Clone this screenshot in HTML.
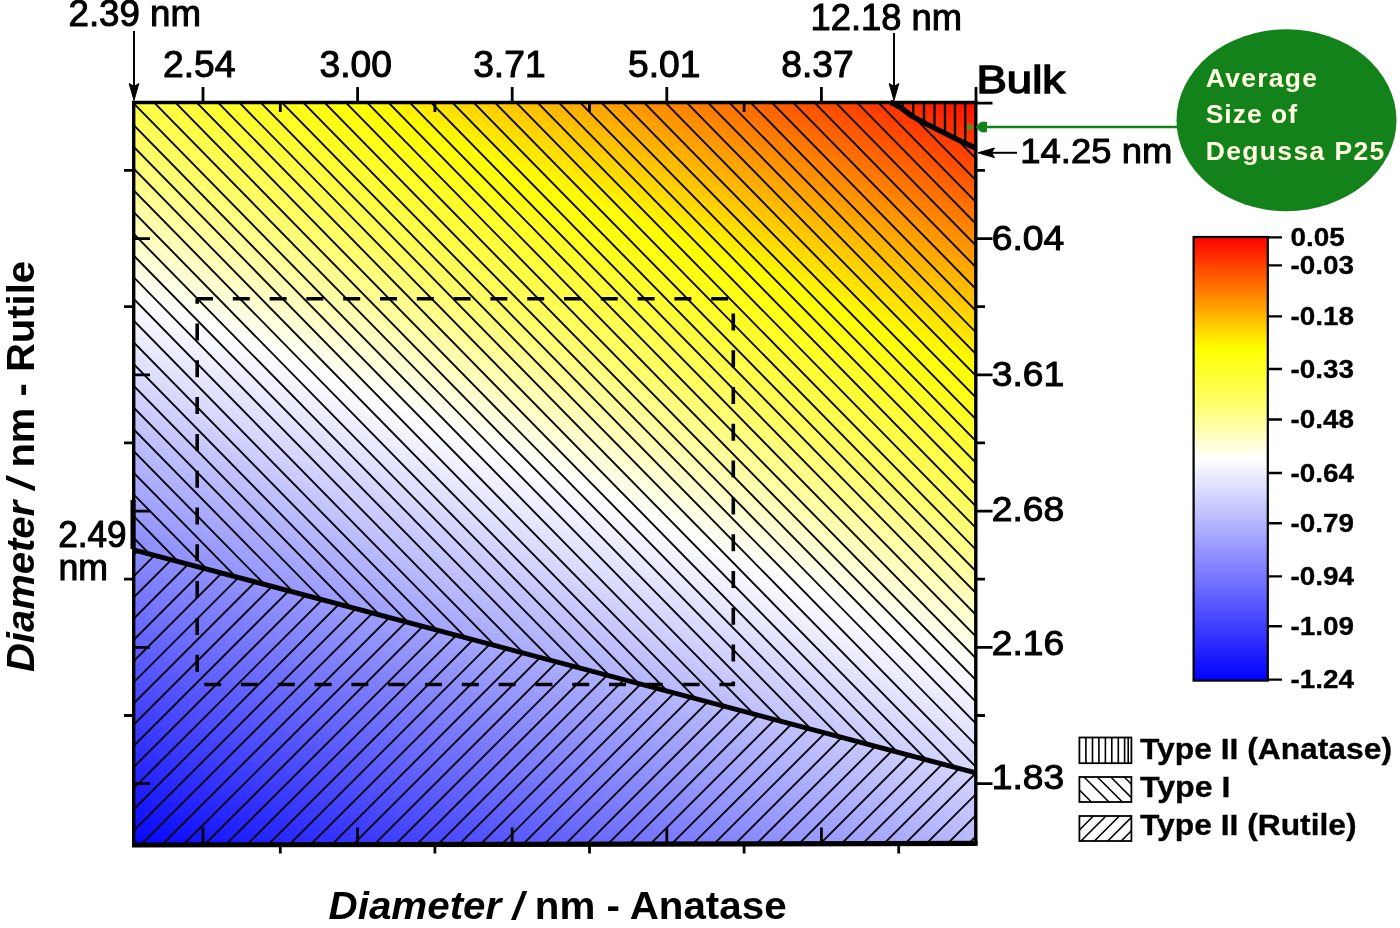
<!DOCTYPE html>
<html lang="en">
<head>
<meta charset="utf-8">
<title>Diameter phase map - Anatase / Rutile</title>
<style>
html,body{margin:0;padding:0;background:#fff;}
body{width:1400px;height:928px;overflow:hidden;font-family:"Liberation Sans",sans-serif;}
svg{display:block;}
text{font-family:"Liberation Sans",sans-serif;}
</style>
</head>
<body>
<svg width="1400" height="928" viewBox="0 0 1400 928">
<defs>
<linearGradient id="cg" x1="0" y1="0" x2="0" y2="1">
<stop offset="0" stop-color="#ff0000"/>
<stop offset="0.25" stop-color="#ffff00"/>
<stop offset="0.375" stop-color="#ffff68"/>
<stop offset="0.5" stop-color="#ffffff"/>
<stop offset="1" stop-color="#0000ff"/>
</linearGradient>
<linearGradient id="sb" gradientUnits="userSpaceOnUse" x1="133.7" y1="0" x2="975.8" y2="0"/>
<linearGradient id="s0" href="#sb"><stop offset="0.0000" stop-color="#ffff48"/><stop offset="0.2711" stop-color="#ffff00"/><stop offset="1.0000" stop-color="#ff1100"/></linearGradient>
<linearGradient id="s1" href="#sb"><stop offset="0.0000" stop-color="#ffff4c"/><stop offset="0.2847" stop-color="#ffff00"/><stop offset="1.0000" stop-color="#ff1600"/></linearGradient>
<linearGradient id="s2" href="#sb"><stop offset="0.0000" stop-color="#ffff4f"/><stop offset="0.2983" stop-color="#ffff00"/><stop offset="1.0000" stop-color="#ff1a00"/></linearGradient>
<linearGradient id="s3" href="#sb"><stop offset="0.0000" stop-color="#ffff53"/><stop offset="0.3120" stop-color="#ffff00"/><stop offset="1.0000" stop-color="#ff1f00"/></linearGradient>
<linearGradient id="s4" href="#sb"><stop offset="0.0000" stop-color="#ffff57"/><stop offset="0.3256" stop-color="#ffff00"/><stop offset="1.0000" stop-color="#ff2300"/></linearGradient>
<linearGradient id="s5" href="#sb"><stop offset="0.0000" stop-color="#ffff5a"/><stop offset="0.3393" stop-color="#ffff00"/><stop offset="1.0000" stop-color="#ff2800"/></linearGradient>
<linearGradient id="s6" href="#sb"><stop offset="0.0000" stop-color="#ffff5e"/><stop offset="0.3529" stop-color="#ffff00"/><stop offset="1.0000" stop-color="#ff2c00"/></linearGradient>
<linearGradient id="s7" href="#sb"><stop offset="0.0000" stop-color="#ffff61"/><stop offset="0.3666" stop-color="#ffff00"/><stop offset="1.0000" stop-color="#ff3100"/></linearGradient>
<linearGradient id="s8" href="#sb"><stop offset="0.0000" stop-color="#ffff65"/><stop offset="0.3803" stop-color="#ffff00"/><stop offset="1.0000" stop-color="#ff3500"/></linearGradient>
<linearGradient id="s9" href="#sb"><stop offset="0.0000" stop-color="#ffff69"/><stop offset="0.0019" stop-color="#ffff68"/><stop offset="0.3940" stop-color="#ffff00"/><stop offset="1.0000" stop-color="#ff3a00"/></linearGradient>
<linearGradient id="s10" href="#sb"><stop offset="0.0000" stop-color="#ffff6e"/><stop offset="0.0154" stop-color="#ffff68"/><stop offset="0.4077" stop-color="#ffff00"/><stop offset="1.0000" stop-color="#ff3f00"/></linearGradient>
<linearGradient id="s11" href="#sb"><stop offset="0.0000" stop-color="#ffff73"/><stop offset="0.0290" stop-color="#ffff68"/><stop offset="0.4215" stop-color="#ffff00"/><stop offset="1.0000" stop-color="#ff4300"/></linearGradient>
<linearGradient id="s12" href="#sb"><stop offset="0.0000" stop-color="#ffff78"/><stop offset="0.0426" stop-color="#ffff68"/><stop offset="0.4352" stop-color="#ffff00"/><stop offset="1.0000" stop-color="#ff4800"/></linearGradient>
<linearGradient id="s13" href="#sb"><stop offset="0.0000" stop-color="#ffff7e"/><stop offset="0.0562" stop-color="#ffff68"/><stop offset="0.4490" stop-color="#ffff00"/><stop offset="1.0000" stop-color="#ff4c00"/></linearGradient>
<linearGradient id="s14" href="#sb"><stop offset="0.0000" stop-color="#ffff83"/><stop offset="0.0698" stop-color="#ffff68"/><stop offset="0.4627" stop-color="#ffff00"/><stop offset="1.0000" stop-color="#ff5100"/></linearGradient>
<linearGradient id="s15" href="#sb"><stop offset="0.0000" stop-color="#ffff88"/><stop offset="0.0834" stop-color="#ffff68"/><stop offset="0.4765" stop-color="#ffff00"/><stop offset="1.0000" stop-color="#ff5500"/></linearGradient>
<linearGradient id="s16" href="#sb"><stop offset="0.0000" stop-color="#ffff8d"/><stop offset="0.0970" stop-color="#ffff68"/><stop offset="0.4903" stop-color="#ffff00"/><stop offset="1.0000" stop-color="#ff5a00"/></linearGradient>
<linearGradient id="s17" href="#sb"><stop offset="0.0000" stop-color="#ffff92"/><stop offset="0.1107" stop-color="#ffff68"/><stop offset="0.5041" stop-color="#ffff00"/><stop offset="1.0000" stop-color="#ff5e00"/></linearGradient>
<linearGradient id="s18" href="#sb"><stop offset="0.0000" stop-color="#ffff98"/><stop offset="0.1243" stop-color="#ffff68"/><stop offset="0.5179" stop-color="#ffff00"/><stop offset="1.0000" stop-color="#ff6300"/></linearGradient>
<linearGradient id="s19" href="#sb"><stop offset="0.0000" stop-color="#ffff9d"/><stop offset="0.1380" stop-color="#ffff68"/><stop offset="0.5317" stop-color="#ffff00"/><stop offset="1.0000" stop-color="#ff6700"/></linearGradient>
<linearGradient id="s20" href="#sb"><stop offset="0.0000" stop-color="#ffffa2"/><stop offset="0.1516" stop-color="#ffff68"/><stop offset="0.5456" stop-color="#ffff00"/><stop offset="1.0000" stop-color="#ff6c00"/></linearGradient>
<linearGradient id="s21" href="#sb"><stop offset="0.0000" stop-color="#ffffa7"/><stop offset="0.1653" stop-color="#ffff68"/><stop offset="0.5594" stop-color="#ffff00"/><stop offset="1.0000" stop-color="#ff7000"/></linearGradient>
<linearGradient id="s22" href="#sb"><stop offset="0.0000" stop-color="#ffffad"/><stop offset="0.1790" stop-color="#ffff68"/><stop offset="0.5733" stop-color="#ffff00"/><stop offset="1.0000" stop-color="#ff7500"/></linearGradient>
<linearGradient id="s23" href="#sb"><stop offset="0.0000" stop-color="#ffffb2"/><stop offset="0.1927" stop-color="#ffff68"/><stop offset="0.5871" stop-color="#ffff00"/><stop offset="1.0000" stop-color="#ff7a00"/></linearGradient>
<linearGradient id="s24" href="#sb"><stop offset="0.0000" stop-color="#ffffb7"/><stop offset="0.2064" stop-color="#ffff68"/><stop offset="0.6010" stop-color="#ffff00"/><stop offset="1.0000" stop-color="#ff7e00"/></linearGradient>
<linearGradient id="s25" href="#sb"><stop offset="0.0000" stop-color="#ffffbc"/><stop offset="0.2201" stop-color="#ffff68"/><stop offset="0.6149" stop-color="#ffff00"/><stop offset="1.0000" stop-color="#ff8300"/></linearGradient>
<linearGradient id="s26" href="#sb"><stop offset="0.0000" stop-color="#ffffc1"/><stop offset="0.2339" stop-color="#ffff68"/><stop offset="0.6288" stop-color="#ffff00"/><stop offset="1.0000" stop-color="#ff8700"/></linearGradient>
<linearGradient id="s27" href="#sb"><stop offset="0.0000" stop-color="#ffffc7"/><stop offset="0.2476" stop-color="#ffff68"/><stop offset="0.6427" stop-color="#ffff00"/><stop offset="1.0000" stop-color="#ff8c00"/></linearGradient>
<linearGradient id="s28" href="#sb"><stop offset="0.0000" stop-color="#ffffcc"/><stop offset="0.2614" stop-color="#ffff68"/><stop offset="0.6566" stop-color="#ffff00"/><stop offset="1.0000" stop-color="#ff9000"/></linearGradient>
<linearGradient id="s29" href="#sb"><stop offset="0.0000" stop-color="#ffffd1"/><stop offset="0.2752" stop-color="#ffff68"/><stop offset="0.6706" stop-color="#ffff00"/><stop offset="1.0000" stop-color="#ff9500"/></linearGradient>
<linearGradient id="s30" href="#sb"><stop offset="0.0000" stop-color="#ffffd6"/><stop offset="0.2889" stop-color="#ffff68"/><stop offset="0.6845" stop-color="#ffff00"/><stop offset="1.0000" stop-color="#ff9900"/></linearGradient>
<linearGradient id="s31" href="#sb"><stop offset="0.0000" stop-color="#ffffdc"/><stop offset="0.3027" stop-color="#ffff68"/><stop offset="0.6985" stop-color="#ffff00"/><stop offset="1.0000" stop-color="#ff9e00"/></linearGradient>
<linearGradient id="s32" href="#sb"><stop offset="0.0000" stop-color="#ffffe1"/><stop offset="0.3165" stop-color="#ffff68"/><stop offset="0.7124" stop-color="#ffff00"/><stop offset="1.0000" stop-color="#ffa200"/></linearGradient>
<linearGradient id="s33" href="#sb"><stop offset="0.0000" stop-color="#ffffe6"/><stop offset="0.3304" stop-color="#ffff68"/><stop offset="0.7264" stop-color="#ffff00"/><stop offset="1.0000" stop-color="#ffa700"/></linearGradient>
<linearGradient id="s34" href="#sb"><stop offset="0.0000" stop-color="#ffffeb"/><stop offset="0.3442" stop-color="#ffff68"/><stop offset="0.7404" stop-color="#ffff00"/><stop offset="1.0000" stop-color="#ffab00"/></linearGradient>
<linearGradient id="s35" href="#sb"><stop offset="0.0000" stop-color="#fffff0"/><stop offset="0.3580" stop-color="#ffff68"/><stop offset="0.7544" stop-color="#ffff00"/><stop offset="1.0000" stop-color="#ffb000"/></linearGradient>
<linearGradient id="s36" href="#sb"><stop offset="0.0000" stop-color="#fffff6"/><stop offset="0.3719" stop-color="#ffff68"/><stop offset="0.7684" stop-color="#ffff00"/><stop offset="1.0000" stop-color="#ffb500"/></linearGradient>
<linearGradient id="s37" href="#sb"><stop offset="0.0000" stop-color="#fffffb"/><stop offset="0.3858" stop-color="#ffff68"/><stop offset="0.7825" stop-color="#ffff00"/><stop offset="1.0000" stop-color="#ffb900"/></linearGradient>
<linearGradient id="s38" href="#sb"><stop offset="0.0000" stop-color="#ffffff"/><stop offset="0.0028" stop-color="#ffffff"/><stop offset="0.3997" stop-color="#ffff68"/><stop offset="0.7965" stop-color="#ffff00"/><stop offset="1.0000" stop-color="#ffbe00"/></linearGradient>
<linearGradient id="s39" href="#sb"><stop offset="0.0000" stop-color="#fcfcff"/><stop offset="0.0169" stop-color="#ffffff"/><stop offset="0.4138" stop-color="#ffff68"/><stop offset="0.8107" stop-color="#ffff00"/><stop offset="1.0000" stop-color="#ffc200"/></linearGradient>
<linearGradient id="s40" href="#sb"><stop offset="0.0000" stop-color="#fafaff"/><stop offset="0.0311" stop-color="#ffffff"/><stop offset="0.4279" stop-color="#ffff68"/><stop offset="0.8248" stop-color="#ffff00"/><stop offset="1.0000" stop-color="#ffc700"/></linearGradient>
<linearGradient id="s41" href="#sb"><stop offset="0.0000" stop-color="#f8f8ff"/><stop offset="0.0452" stop-color="#ffffff"/><stop offset="0.4420" stop-color="#ffff68"/><stop offset="0.8389" stop-color="#ffff00"/><stop offset="1.0000" stop-color="#ffcb00"/></linearGradient>
<linearGradient id="s42" href="#sb"><stop offset="0.0000" stop-color="#f5f5ff"/><stop offset="0.0593" stop-color="#ffffff"/><stop offset="0.4562" stop-color="#ffff68"/><stop offset="0.8530" stop-color="#ffff00"/><stop offset="1.0000" stop-color="#ffd000"/></linearGradient>
<linearGradient id="s43" href="#sb"><stop offset="0.0000" stop-color="#f3f3ff"/><stop offset="0.0734" stop-color="#ffffff"/><stop offset="0.4703" stop-color="#ffff68"/><stop offset="0.8672" stop-color="#ffff00"/><stop offset="1.0000" stop-color="#ffd400"/></linearGradient>
<linearGradient id="s44" href="#sb"><stop offset="0.0000" stop-color="#f1f1ff"/><stop offset="0.0875" stop-color="#ffffff"/><stop offset="0.4844" stop-color="#ffff68"/><stop offset="0.8813" stop-color="#ffff00"/><stop offset="1.0000" stop-color="#ffd900"/></linearGradient>
<linearGradient id="s45" href="#sb"><stop offset="0.0000" stop-color="#efefff"/><stop offset="0.1016" stop-color="#ffffff"/><stop offset="0.4985" stop-color="#ffff68"/><stop offset="0.8954" stop-color="#ffff00"/><stop offset="1.0000" stop-color="#ffdd00"/></linearGradient>
<linearGradient id="s46" href="#sb"><stop offset="0.0000" stop-color="#ececff"/><stop offset="0.1158" stop-color="#ffffff"/><stop offset="0.5127" stop-color="#ffff68"/><stop offset="0.9096" stop-color="#ffff00"/><stop offset="1.0000" stop-color="#ffe200"/></linearGradient>
<linearGradient id="s47" href="#sb"><stop offset="0.0000" stop-color="#eaeaff"/><stop offset="0.1299" stop-color="#ffffff"/><stop offset="0.5268" stop-color="#ffff68"/><stop offset="0.9237" stop-color="#ffff00"/><stop offset="1.0000" stop-color="#ffe600"/></linearGradient>
<linearGradient id="s48" href="#sb"><stop offset="0.0000" stop-color="#e8e8ff"/><stop offset="0.1440" stop-color="#ffffff"/><stop offset="0.5409" stop-color="#ffff68"/><stop offset="0.9378" stop-color="#ffff00"/><stop offset="1.0000" stop-color="#ffeb00"/></linearGradient>
<linearGradient id="s49" href="#sb"><stop offset="0.0000" stop-color="#e6e6ff"/><stop offset="0.1581" stop-color="#ffffff"/><stop offset="0.5550" stop-color="#ffff68"/><stop offset="0.9519" stop-color="#ffff00"/><stop offset="1.0000" stop-color="#fff000"/></linearGradient>
<linearGradient id="s50" href="#sb"><stop offset="0.0000" stop-color="#e3e3ff"/><stop offset="0.1723" stop-color="#ffffff"/><stop offset="0.5692" stop-color="#ffff68"/><stop offset="0.9661" stop-color="#ffff00"/><stop offset="1.0000" stop-color="#fff400"/></linearGradient>
<linearGradient id="s51" href="#sb"><stop offset="0.0000" stop-color="#e1e1ff"/><stop offset="0.1864" stop-color="#ffffff"/><stop offset="0.5833" stop-color="#ffff68"/><stop offset="0.9802" stop-color="#ffff00"/><stop offset="1.0000" stop-color="#fff900"/></linearGradient>
<linearGradient id="s52" href="#sb"><stop offset="0.0000" stop-color="#dfdfff"/><stop offset="0.2005" stop-color="#ffffff"/><stop offset="0.5974" stop-color="#ffff68"/><stop offset="0.9943" stop-color="#ffff00"/><stop offset="1.0000" stop-color="#fffd00"/></linearGradient>
<linearGradient id="s53" href="#sb"><stop offset="0.0000" stop-color="#ddddff"/><stop offset="0.2145" stop-color="#ffffff"/><stop offset="0.6112" stop-color="#ffff68"/><stop offset="1.0000" stop-color="#ffff02"/></linearGradient>
<linearGradient id="s54" href="#sb"><stop offset="0.0000" stop-color="#dadaff"/><stop offset="0.2284" stop-color="#ffffff"/><stop offset="0.6248" stop-color="#ffff68"/><stop offset="1.0000" stop-color="#ffff06"/></linearGradient>
<linearGradient id="s55" href="#sb"><stop offset="0.0000" stop-color="#d8d8ff"/><stop offset="0.2423" stop-color="#ffffff"/><stop offset="0.6384" stop-color="#ffff68"/><stop offset="1.0000" stop-color="#ffff09"/></linearGradient>
<linearGradient id="s56" href="#sb"><stop offset="0.0000" stop-color="#d6d6ff"/><stop offset="0.2562" stop-color="#ffffff"/><stop offset="0.6519" stop-color="#ffff68"/><stop offset="1.0000" stop-color="#ffff0d"/></linearGradient>
<linearGradient id="s57" href="#sb"><stop offset="0.0000" stop-color="#d3d3ff"/><stop offset="0.2700" stop-color="#ffffff"/><stop offset="0.6654" stop-color="#ffff68"/><stop offset="1.0000" stop-color="#ffff10"/></linearGradient>
<linearGradient id="s58" href="#sb"><stop offset="0.0000" stop-color="#d1d1ff"/><stop offset="0.2839" stop-color="#ffffff"/><stop offset="0.6789" stop-color="#ffff68"/><stop offset="1.0000" stop-color="#ffff13"/></linearGradient>
<linearGradient id="s59" href="#sb"><stop offset="0.0000" stop-color="#cfcfff"/><stop offset="0.2977" stop-color="#ffffff"/><stop offset="0.6924" stop-color="#ffff68"/><stop offset="1.0000" stop-color="#ffff17"/></linearGradient>
<linearGradient id="s60" href="#sb"><stop offset="0.0000" stop-color="#cdcdff"/><stop offset="0.3115" stop-color="#ffffff"/><stop offset="0.7059" stop-color="#ffff68"/><stop offset="1.0000" stop-color="#ffff1a"/></linearGradient>
<linearGradient id="s61" href="#sb"><stop offset="0.0000" stop-color="#cacaff"/><stop offset="0.3252" stop-color="#ffffff"/><stop offset="0.7193" stop-color="#ffff68"/><stop offset="1.0000" stop-color="#ffff1e"/></linearGradient>
<linearGradient id="s62" href="#sb"><stop offset="0.0000" stop-color="#c8c8ff"/><stop offset="0.3389" stop-color="#ffffff"/><stop offset="0.7327" stop-color="#ffff68"/><stop offset="1.0000" stop-color="#ffff21"/></linearGradient>
<linearGradient id="s63" href="#sb"><stop offset="0.0000" stop-color="#c6c6ff"/><stop offset="0.3527" stop-color="#ffffff"/><stop offset="0.7461" stop-color="#ffff68"/><stop offset="1.0000" stop-color="#ffff25"/></linearGradient>
<linearGradient id="s64" href="#sb"><stop offset="0.0000" stop-color="#c4c4ff"/><stop offset="0.3663" stop-color="#ffffff"/><stop offset="0.7594" stop-color="#ffff68"/><stop offset="1.0000" stop-color="#ffff28"/></linearGradient>
<linearGradient id="s65" href="#sb"><stop offset="0.0000" stop-color="#c1c1ff"/><stop offset="0.3800" stop-color="#ffffff"/><stop offset="0.7728" stop-color="#ffff68"/><stop offset="1.0000" stop-color="#ffff2c"/></linearGradient>
<linearGradient id="s66" href="#sb"><stop offset="0.0000" stop-color="#bfbfff"/><stop offset="0.3936" stop-color="#ffffff"/><stop offset="0.7861" stop-color="#ffff68"/><stop offset="1.0000" stop-color="#ffff2f"/></linearGradient>
<linearGradient id="s67" href="#sb"><stop offset="0.0000" stop-color="#bdbdff"/><stop offset="0.4073" stop-color="#ffffff"/><stop offset="0.7994" stop-color="#ffff68"/><stop offset="1.0000" stop-color="#ffff33"/></linearGradient>
<linearGradient id="s68" href="#sb"><stop offset="0.0000" stop-color="#bbbbff"/><stop offset="0.4209" stop-color="#ffffff"/><stop offset="0.8126" stop-color="#ffff68"/><stop offset="1.0000" stop-color="#ffff36"/></linearGradient>
<linearGradient id="s69" href="#sb"><stop offset="0.0000" stop-color="#b8b8ff"/><stop offset="0.4344" stop-color="#ffffff"/><stop offset="0.8259" stop-color="#ffff68"/><stop offset="1.0000" stop-color="#ffff3a"/></linearGradient>
<linearGradient id="s70" href="#sb"><stop offset="0.0000" stop-color="#b6b6ff"/><stop offset="0.4480" stop-color="#ffffff"/><stop offset="0.8391" stop-color="#ffff68"/><stop offset="1.0000" stop-color="#ffff3d"/></linearGradient>
<linearGradient id="s71" href="#sb"><stop offset="0.0000" stop-color="#b4b4ff"/><stop offset="0.4615" stop-color="#ffffff"/><stop offset="0.8523" stop-color="#ffff68"/><stop offset="1.0000" stop-color="#ffff41"/></linearGradient>
<linearGradient id="s72" href="#sb"><stop offset="0.0000" stop-color="#b1b1ff"/><stop offset="0.4750" stop-color="#ffffff"/><stop offset="0.8655" stop-color="#ffff68"/><stop offset="1.0000" stop-color="#ffff44"/></linearGradient>
<linearGradient id="s73" href="#sb"><stop offset="0.0000" stop-color="#afafff"/><stop offset="0.4885" stop-color="#ffffff"/><stop offset="0.8787" stop-color="#ffff68"/><stop offset="1.0000" stop-color="#ffff48"/></linearGradient>
<linearGradient id="s74" href="#sb"><stop offset="0.0000" stop-color="#adadff"/><stop offset="0.5020" stop-color="#ffffff"/><stop offset="0.8918" stop-color="#ffff68"/><stop offset="1.0000" stop-color="#ffff4b"/></linearGradient>
<linearGradient id="s75" href="#sb"><stop offset="0.0000" stop-color="#ababff"/><stop offset="0.5154" stop-color="#ffffff"/><stop offset="0.9049" stop-color="#ffff68"/><stop offset="1.0000" stop-color="#ffff4f"/></linearGradient>
<linearGradient id="s76" href="#sb"><stop offset="0.0000" stop-color="#a8a8ff"/><stop offset="0.5288" stop-color="#ffffff"/><stop offset="0.9180" stop-color="#ffff68"/><stop offset="1.0000" stop-color="#ffff52"/></linearGradient>
<linearGradient id="s77" href="#sb"><stop offset="0.0000" stop-color="#a6a6ff"/><stop offset="0.5422" stop-color="#ffffff"/><stop offset="0.9311" stop-color="#ffff68"/><stop offset="1.0000" stop-color="#ffff56"/></linearGradient>
<linearGradient id="s78" href="#sb"><stop offset="0.0000" stop-color="#a4a4ff"/><stop offset="0.5556" stop-color="#ffffff"/><stop offset="0.9441" stop-color="#ffff68"/><stop offset="1.0000" stop-color="#ffff59"/></linearGradient>
<linearGradient id="s79" href="#sb"><stop offset="0.0000" stop-color="#a2a2ff"/><stop offset="0.5689" stop-color="#ffffff"/><stop offset="0.9572" stop-color="#ffff68"/><stop offset="1.0000" stop-color="#ffff5d"/></linearGradient>
<linearGradient id="s80" href="#sb"><stop offset="0.0000" stop-color="#9f9fff"/><stop offset="0.5823" stop-color="#ffffff"/><stop offset="0.9702" stop-color="#ffff68"/><stop offset="1.0000" stop-color="#ffff60"/></linearGradient>
<linearGradient id="s81" href="#sb"><stop offset="0.0000" stop-color="#9d9dff"/><stop offset="0.5956" stop-color="#ffffff"/><stop offset="0.9831" stop-color="#ffff68"/><stop offset="1.0000" stop-color="#ffff63"/></linearGradient>
<linearGradient id="s82" href="#sb"><stop offset="0.0000" stop-color="#9b9bff"/><stop offset="0.6089" stop-color="#ffffff"/><stop offset="0.9961" stop-color="#ffff68"/><stop offset="1.0000" stop-color="#ffff67"/></linearGradient>
<linearGradient id="s83" href="#sb"><stop offset="0.0000" stop-color="#9999ff"/><stop offset="0.6221" stop-color="#ffffff"/><stop offset="1.0000" stop-color="#ffff6c"/></linearGradient>
<linearGradient id="s84" href="#sb"><stop offset="0.0000" stop-color="#9696ff"/><stop offset="0.6354" stop-color="#ffffff"/><stop offset="1.0000" stop-color="#ffff71"/></linearGradient>
<linearGradient id="s85" href="#sb"><stop offset="0.0000" stop-color="#9494ff"/><stop offset="0.6486" stop-color="#ffffff"/><stop offset="1.0000" stop-color="#ffff76"/></linearGradient>
<linearGradient id="s86" href="#sb"><stop offset="0.0000" stop-color="#9292ff"/><stop offset="0.6618" stop-color="#ffffff"/><stop offset="1.0000" stop-color="#ffff7b"/></linearGradient>
<linearGradient id="s87" href="#sb"><stop offset="0.0000" stop-color="#8f8fff"/><stop offset="0.6750" stop-color="#ffffff"/><stop offset="1.0000" stop-color="#ffff80"/></linearGradient>
<linearGradient id="s88" href="#sb"><stop offset="0.0000" stop-color="#8d8dff"/><stop offset="0.6881" stop-color="#ffffff"/><stop offset="1.0000" stop-color="#ffff85"/></linearGradient>
<linearGradient id="s89" href="#sb"><stop offset="0.0000" stop-color="#8b8bff"/><stop offset="0.7012" stop-color="#ffffff"/><stop offset="1.0000" stop-color="#ffff8a"/></linearGradient>
<linearGradient id="s90" href="#sb"><stop offset="0.0000" stop-color="#8989ff"/><stop offset="0.7144" stop-color="#ffffff"/><stop offset="1.0000" stop-color="#ffff8f"/></linearGradient>
<linearGradient id="s91" href="#sb"><stop offset="0.0000" stop-color="#8686ff"/><stop offset="0.7274" stop-color="#ffffff"/><stop offset="1.0000" stop-color="#ffff94"/></linearGradient>
<linearGradient id="s92" href="#sb"><stop offset="0.0000" stop-color="#8484ff"/><stop offset="0.7405" stop-color="#ffffff"/><stop offset="1.0000" stop-color="#ffff99"/></linearGradient>
<linearGradient id="s93" href="#sb"><stop offset="0.0000" stop-color="#8282ff"/><stop offset="0.7536" stop-color="#ffffff"/><stop offset="1.0000" stop-color="#ffff9e"/></linearGradient>
<linearGradient id="s94" href="#sb"><stop offset="0.0000" stop-color="#8080ff"/><stop offset="0.7666" stop-color="#ffffff"/><stop offset="1.0000" stop-color="#ffffa3"/></linearGradient>
<linearGradient id="s95" href="#sb"><stop offset="0.0000" stop-color="#7d7dff"/><stop offset="0.7796" stop-color="#ffffff"/><stop offset="1.0000" stop-color="#ffffa8"/></linearGradient>
<linearGradient id="s96" href="#sb"><stop offset="0.0000" stop-color="#7b7bff"/><stop offset="0.7926" stop-color="#ffffff"/><stop offset="1.0000" stop-color="#ffffad"/></linearGradient>
<linearGradient id="s97" href="#sb"><stop offset="0.0000" stop-color="#7979ff"/><stop offset="0.8055" stop-color="#ffffff"/><stop offset="1.0000" stop-color="#ffffb2"/></linearGradient>
<linearGradient id="s98" href="#sb"><stop offset="0.0000" stop-color="#7676ff"/><stop offset="0.8185" stop-color="#ffffff"/><stop offset="1.0000" stop-color="#ffffb7"/></linearGradient>
<linearGradient id="s99" href="#sb"><stop offset="0.0000" stop-color="#7474ff"/><stop offset="0.8314" stop-color="#ffffff"/><stop offset="1.0000" stop-color="#ffffbc"/></linearGradient>
<linearGradient id="s100" href="#sb"><stop offset="0.0000" stop-color="#7272ff"/><stop offset="0.8443" stop-color="#ffffff"/><stop offset="1.0000" stop-color="#ffffc1"/></linearGradient>
<linearGradient id="s101" href="#sb"><stop offset="0.0000" stop-color="#7070ff"/><stop offset="0.8572" stop-color="#ffffff"/><stop offset="1.0000" stop-color="#ffffc6"/></linearGradient>
<linearGradient id="s102" href="#sb"><stop offset="0.0000" stop-color="#6d6dff"/><stop offset="0.8700" stop-color="#ffffff"/><stop offset="1.0000" stop-color="#ffffcb"/></linearGradient>
<linearGradient id="s103" href="#sb"><stop offset="0.0000" stop-color="#6b6bff"/><stop offset="0.8829" stop-color="#ffffff"/><stop offset="1.0000" stop-color="#ffffd1"/></linearGradient>
<linearGradient id="s104" href="#sb"><stop offset="0.0000" stop-color="#6969ff"/><stop offset="0.8957" stop-color="#ffffff"/><stop offset="1.0000" stop-color="#ffffd6"/></linearGradient>
<linearGradient id="s105" href="#sb"><stop offset="0.0000" stop-color="#6767ff"/><stop offset="0.9085" stop-color="#ffffff"/><stop offset="1.0000" stop-color="#ffffdb"/></linearGradient>
<linearGradient id="s106" href="#sb"><stop offset="0.0000" stop-color="#6464ff"/><stop offset="0.9213" stop-color="#ffffff"/><stop offset="1.0000" stop-color="#ffffe0"/></linearGradient>
<linearGradient id="s107" href="#sb"><stop offset="0.0000" stop-color="#6262ff"/><stop offset="0.9340" stop-color="#ffffff"/><stop offset="1.0000" stop-color="#ffffe5"/></linearGradient>
<linearGradient id="s108" href="#sb"><stop offset="0.0000" stop-color="#6060ff"/><stop offset="0.9467" stop-color="#ffffff"/><stop offset="1.0000" stop-color="#ffffea"/></linearGradient>
<linearGradient id="s109" href="#sb"><stop offset="0.0000" stop-color="#5e5eff"/><stop offset="0.9595" stop-color="#ffffff"/><stop offset="1.0000" stop-color="#ffffef"/></linearGradient>
<linearGradient id="s110" href="#sb"><stop offset="0.0000" stop-color="#5b5bff"/><stop offset="0.9721" stop-color="#ffffff"/><stop offset="1.0000" stop-color="#fffff4"/></linearGradient>
<linearGradient id="s111" href="#sb"><stop offset="0.0000" stop-color="#5959ff"/><stop offset="0.9848" stop-color="#ffffff"/><stop offset="1.0000" stop-color="#fffff9"/></linearGradient>
<linearGradient id="s112" href="#sb"><stop offset="0.0000" stop-color="#5757ff"/><stop offset="0.9975" stop-color="#ffffff"/><stop offset="1.0000" stop-color="#fffffe"/></linearGradient>
<linearGradient id="s113" href="#sb"><stop offset="0.0000" stop-color="#5454ff"/><stop offset="1.0000" stop-color="#fdfdff"/></linearGradient>
<linearGradient id="s114" href="#sb"><stop offset="0.0000" stop-color="#5252ff"/><stop offset="1.0000" stop-color="#fbfbff"/></linearGradient>
<linearGradient id="s115" href="#sb"><stop offset="0.0000" stop-color="#5050ff"/><stop offset="1.0000" stop-color="#f9f9ff"/></linearGradient>
<linearGradient id="s116" href="#sb"><stop offset="0.0000" stop-color="#4e4eff"/><stop offset="1.0000" stop-color="#f7f7ff"/></linearGradient>
<linearGradient id="s117" href="#sb"><stop offset="0.0000" stop-color="#4b4bff"/><stop offset="1.0000" stop-color="#f5f5ff"/></linearGradient>
<linearGradient id="s118" href="#sb"><stop offset="0.0000" stop-color="#4949ff"/><stop offset="1.0000" stop-color="#f3f3ff"/></linearGradient>
<linearGradient id="s119" href="#sb"><stop offset="0.0000" stop-color="#4747ff"/><stop offset="1.0000" stop-color="#f1f1ff"/></linearGradient>
<linearGradient id="s120" href="#sb"><stop offset="0.0000" stop-color="#4545ff"/><stop offset="1.0000" stop-color="#efefff"/></linearGradient>
<linearGradient id="s121" href="#sb"><stop offset="0.0000" stop-color="#4242ff"/><stop offset="1.0000" stop-color="#ededff"/></linearGradient>
<linearGradient id="s122" href="#sb"><stop offset="0.0000" stop-color="#4040ff"/><stop offset="1.0000" stop-color="#ebebff"/></linearGradient>
<linearGradient id="s123" href="#sb"><stop offset="0.0000" stop-color="#3e3eff"/><stop offset="1.0000" stop-color="#e9e9ff"/></linearGradient>
<linearGradient id="s124" href="#sb"><stop offset="0.0000" stop-color="#3c3cff"/><stop offset="1.0000" stop-color="#e7e7ff"/></linearGradient>
<linearGradient id="s125" href="#sb"><stop offset="0.0000" stop-color="#3939ff"/><stop offset="1.0000" stop-color="#e5e5ff"/></linearGradient>
<linearGradient id="s126" href="#sb"><stop offset="0.0000" stop-color="#3737ff"/><stop offset="1.0000" stop-color="#e3e3ff"/></linearGradient>
<linearGradient id="s127" href="#sb"><stop offset="0.0000" stop-color="#3535ff"/><stop offset="1.0000" stop-color="#e1e1ff"/></linearGradient>
<linearGradient id="s128" href="#sb"><stop offset="0.0000" stop-color="#3232ff"/><stop offset="1.0000" stop-color="#dfdfff"/></linearGradient>
<linearGradient id="s129" href="#sb"><stop offset="0.0000" stop-color="#3030ff"/><stop offset="1.0000" stop-color="#ddddff"/></linearGradient>
<linearGradient id="s130" href="#sb"><stop offset="0.0000" stop-color="#2e2eff"/><stop offset="1.0000" stop-color="#dbdbff"/></linearGradient>
<linearGradient id="s131" href="#sb"><stop offset="0.0000" stop-color="#2c2cff"/><stop offset="1.0000" stop-color="#dadaff"/></linearGradient>
<linearGradient id="s132" href="#sb"><stop offset="0.0000" stop-color="#2929ff"/><stop offset="1.0000" stop-color="#d8d8ff"/></linearGradient>
<linearGradient id="s133" href="#sb"><stop offset="0.0000" stop-color="#2727ff"/><stop offset="1.0000" stop-color="#d6d6ff"/></linearGradient>
<linearGradient id="s134" href="#sb"><stop offset="0.0000" stop-color="#2525ff"/><stop offset="1.0000" stop-color="#d4d4ff"/></linearGradient>
<linearGradient id="s135" href="#sb"><stop offset="0.0000" stop-color="#2323ff"/><stop offset="1.0000" stop-color="#d2d2ff"/></linearGradient>
<linearGradient id="s136" href="#sb"><stop offset="0.0000" stop-color="#2020ff"/><stop offset="1.0000" stop-color="#d0d0ff"/></linearGradient>
<linearGradient id="s137" href="#sb"><stop offset="0.0000" stop-color="#1e1eff"/><stop offset="1.0000" stop-color="#ceceff"/></linearGradient>
<linearGradient id="s138" href="#sb"><stop offset="0.0000" stop-color="#1c1cff"/><stop offset="1.0000" stop-color="#ccccff"/></linearGradient>
<linearGradient id="s139" href="#sb"><stop offset="0.0000" stop-color="#1a1aff"/><stop offset="1.0000" stop-color="#cacaff"/></linearGradient>
<linearGradient id="s140" href="#sb"><stop offset="0.0000" stop-color="#1717ff"/><stop offset="1.0000" stop-color="#c8c8ff"/></linearGradient>
<linearGradient id="s141" href="#sb"><stop offset="0.0000" stop-color="#1515ff"/><stop offset="1.0000" stop-color="#c6c6ff"/></linearGradient>
<linearGradient id="s142" href="#sb"><stop offset="0.0000" stop-color="#1313ff"/><stop offset="1.0000" stop-color="#c4c4ff"/></linearGradient>
<linearGradient id="s143" href="#sb"><stop offset="0.0000" stop-color="#1010ff"/><stop offset="1.0000" stop-color="#c2c2ff"/></linearGradient>
<linearGradient id="s144" href="#sb"><stop offset="0.0000" stop-color="#0e0eff"/><stop offset="1.0000" stop-color="#c0c0ff"/></linearGradient>
<linearGradient id="s145" href="#sb"><stop offset="0.0000" stop-color="#0c0cff"/><stop offset="1.0000" stop-color="#bebeff"/></linearGradient>
<linearGradient id="s146" href="#sb"><stop offset="0.0000" stop-color="#0a0aff"/><stop offset="1.0000" stop-color="#bcbcff"/></linearGradient>
<linearGradient id="s147" href="#sb"><stop offset="0.0000" stop-color="#0707ff"/><stop offset="1.0000" stop-color="#babaff"/></linearGradient>
<linearGradient id="s148" href="#sb"><stop offset="0.0000" stop-color="#0606ff"/><stop offset="1.0000" stop-color="#b8b8ff"/></linearGradient>
<clipPath id="cf"><rect x="133.7" y="102.5" width="842.1" height="741.9"/></clipPath>
<clipPath id="c1"><path d="M133.7 102.5L892.5 103 L902 108.5 L911.7 116 L926.8 124.2 L946.2 133.9 L961.3 141.4 L975.5 148 L975.8 772.9L133.7 549.8Z"/></clipPath>
<clipPath id="c2"><path d="M133.7 549.8L975.8 772.9L975.8 844.4L133.7 844.4Z"/></clipPath>
<clipPath id="c3"><path d="M892.5 102.5L975.8 102.5L975.8 148 L961.3 141.4 L946.2 133.9 L926.8 124.2 L911.7 116 L902 108.5 L892.5 103Z"/></clipPath>
</defs>
<rect width="1400" height="928" fill="#fff"/>
<!-- plot field -->
<g clip-path="url(#cf)" shape-rendering="crispEdges"><rect x="133.7" width="842.1" y="102.5" height="5.7" fill="url(#s0)"/>
<rect x="133.7" width="842.1" y="107.5" height="5.7" fill="url(#s1)"/>
<rect x="133.7" width="842.1" y="112.5" height="5.7" fill="url(#s2)"/>
<rect x="133.7" width="842.1" y="117.5" height="5.7" fill="url(#s3)"/>
<rect x="133.7" width="842.1" y="122.5" height="5.7" fill="url(#s4)"/>
<rect x="133.7" width="842.1" y="127.5" height="5.7" fill="url(#s5)"/>
<rect x="133.7" width="842.1" y="132.5" height="5.7" fill="url(#s6)"/>
<rect x="133.7" width="842.1" y="137.5" height="5.7" fill="url(#s7)"/>
<rect x="133.7" width="842.1" y="142.5" height="5.7" fill="url(#s8)"/>
<rect x="133.7" width="842.1" y="147.5" height="5.7" fill="url(#s9)"/>
<rect x="133.7" width="842.1" y="152.5" height="5.7" fill="url(#s10)"/>
<rect x="133.7" width="842.1" y="157.5" height="5.7" fill="url(#s11)"/>
<rect x="133.7" width="842.1" y="162.5" height="5.7" fill="url(#s12)"/>
<rect x="133.7" width="842.1" y="167.5" height="5.7" fill="url(#s13)"/>
<rect x="133.7" width="842.1" y="172.5" height="5.7" fill="url(#s14)"/>
<rect x="133.7" width="842.1" y="177.5" height="5.7" fill="url(#s15)"/>
<rect x="133.7" width="842.1" y="182.5" height="5.7" fill="url(#s16)"/>
<rect x="133.7" width="842.1" y="187.5" height="5.7" fill="url(#s17)"/>
<rect x="133.7" width="842.1" y="192.5" height="5.7" fill="url(#s18)"/>
<rect x="133.7" width="842.1" y="197.5" height="5.7" fill="url(#s19)"/>
<rect x="133.7" width="842.1" y="202.5" height="5.7" fill="url(#s20)"/>
<rect x="133.7" width="842.1" y="207.5" height="5.7" fill="url(#s21)"/>
<rect x="133.7" width="842.1" y="212.5" height="5.7" fill="url(#s22)"/>
<rect x="133.7" width="842.1" y="217.5" height="5.7" fill="url(#s23)"/>
<rect x="133.7" width="842.1" y="222.5" height="5.7" fill="url(#s24)"/>
<rect x="133.7" width="842.1" y="227.5" height="5.7" fill="url(#s25)"/>
<rect x="133.7" width="842.1" y="232.5" height="5.7" fill="url(#s26)"/>
<rect x="133.7" width="842.1" y="237.5" height="5.7" fill="url(#s27)"/>
<rect x="133.7" width="842.1" y="242.5" height="5.7" fill="url(#s28)"/>
<rect x="133.7" width="842.1" y="247.5" height="5.7" fill="url(#s29)"/>
<rect x="133.7" width="842.1" y="252.5" height="5.7" fill="url(#s30)"/>
<rect x="133.7" width="842.1" y="257.5" height="5.7" fill="url(#s31)"/>
<rect x="133.7" width="842.1" y="262.5" height="5.7" fill="url(#s32)"/>
<rect x="133.7" width="842.1" y="267.5" height="5.7" fill="url(#s33)"/>
<rect x="133.7" width="842.1" y="272.5" height="5.7" fill="url(#s34)"/>
<rect x="133.7" width="842.1" y="277.5" height="5.7" fill="url(#s35)"/>
<rect x="133.7" width="842.1" y="282.5" height="5.7" fill="url(#s36)"/>
<rect x="133.7" width="842.1" y="287.5" height="5.7" fill="url(#s37)"/>
<rect x="133.7" width="842.1" y="292.5" height="5.7" fill="url(#s38)"/>
<rect x="133.7" width="842.1" y="297.5" height="5.7" fill="url(#s39)"/>
<rect x="133.7" width="842.1" y="302.5" height="5.7" fill="url(#s40)"/>
<rect x="133.7" width="842.1" y="307.5" height="5.7" fill="url(#s41)"/>
<rect x="133.7" width="842.1" y="312.5" height="5.7" fill="url(#s42)"/>
<rect x="133.7" width="842.1" y="317.5" height="5.7" fill="url(#s43)"/>
<rect x="133.7" width="842.1" y="322.5" height="5.7" fill="url(#s44)"/>
<rect x="133.7" width="842.1" y="327.5" height="5.7" fill="url(#s45)"/>
<rect x="133.7" width="842.1" y="332.5" height="5.7" fill="url(#s46)"/>
<rect x="133.7" width="842.1" y="337.5" height="5.7" fill="url(#s47)"/>
<rect x="133.7" width="842.1" y="342.5" height="5.7" fill="url(#s48)"/>
<rect x="133.7" width="842.1" y="347.5" height="5.7" fill="url(#s49)"/>
<rect x="133.7" width="842.1" y="352.5" height="5.7" fill="url(#s50)"/>
<rect x="133.7" width="842.1" y="357.5" height="5.7" fill="url(#s51)"/>
<rect x="133.7" width="842.1" y="362.5" height="5.7" fill="url(#s52)"/>
<rect x="133.7" width="842.1" y="367.5" height="5.7" fill="url(#s53)"/>
<rect x="133.7" width="842.1" y="372.5" height="5.7" fill="url(#s54)"/>
<rect x="133.7" width="842.1" y="377.5" height="5.7" fill="url(#s55)"/>
<rect x="133.7" width="842.1" y="382.5" height="5.7" fill="url(#s56)"/>
<rect x="133.7" width="842.1" y="387.5" height="5.7" fill="url(#s57)"/>
<rect x="133.7" width="842.1" y="392.5" height="5.7" fill="url(#s58)"/>
<rect x="133.7" width="842.1" y="397.5" height="5.7" fill="url(#s59)"/>
<rect x="133.7" width="842.1" y="402.5" height="5.7" fill="url(#s60)"/>
<rect x="133.7" width="842.1" y="407.5" height="5.7" fill="url(#s61)"/>
<rect x="133.7" width="842.1" y="412.5" height="5.7" fill="url(#s62)"/>
<rect x="133.7" width="842.1" y="417.5" height="5.7" fill="url(#s63)"/>
<rect x="133.7" width="842.1" y="422.5" height="5.7" fill="url(#s64)"/>
<rect x="133.7" width="842.1" y="427.5" height="5.7" fill="url(#s65)"/>
<rect x="133.7" width="842.1" y="432.5" height="5.7" fill="url(#s66)"/>
<rect x="133.7" width="842.1" y="437.5" height="5.7" fill="url(#s67)"/>
<rect x="133.7" width="842.1" y="442.5" height="5.7" fill="url(#s68)"/>
<rect x="133.7" width="842.1" y="447.5" height="5.7" fill="url(#s69)"/>
<rect x="133.7" width="842.1" y="452.5" height="5.7" fill="url(#s70)"/>
<rect x="133.7" width="842.1" y="457.5" height="5.7" fill="url(#s71)"/>
<rect x="133.7" width="842.1" y="462.5" height="5.7" fill="url(#s72)"/>
<rect x="133.7" width="842.1" y="467.5" height="5.7" fill="url(#s73)"/>
<rect x="133.7" width="842.1" y="472.5" height="5.7" fill="url(#s74)"/>
<rect x="133.7" width="842.1" y="477.5" height="5.7" fill="url(#s75)"/>
<rect x="133.7" width="842.1" y="482.5" height="5.7" fill="url(#s76)"/>
<rect x="133.7" width="842.1" y="487.5" height="5.7" fill="url(#s77)"/>
<rect x="133.7" width="842.1" y="492.5" height="5.7" fill="url(#s78)"/>
<rect x="133.7" width="842.1" y="497.5" height="5.7" fill="url(#s79)"/>
<rect x="133.7" width="842.1" y="502.5" height="5.7" fill="url(#s80)"/>
<rect x="133.7" width="842.1" y="507.5" height="5.7" fill="url(#s81)"/>
<rect x="133.7" width="842.1" y="512.5" height="5.7" fill="url(#s82)"/>
<rect x="133.7" width="842.1" y="517.5" height="5.7" fill="url(#s83)"/>
<rect x="133.7" width="842.1" y="522.5" height="5.7" fill="url(#s84)"/>
<rect x="133.7" width="842.1" y="527.5" height="5.7" fill="url(#s85)"/>
<rect x="133.7" width="842.1" y="532.5" height="5.7" fill="url(#s86)"/>
<rect x="133.7" width="842.1" y="537.5" height="5.7" fill="url(#s87)"/>
<rect x="133.7" width="842.1" y="542.5" height="5.7" fill="url(#s88)"/>
<rect x="133.7" width="842.1" y="547.5" height="5.7" fill="url(#s89)"/>
<rect x="133.7" width="842.1" y="552.5" height="5.7" fill="url(#s90)"/>
<rect x="133.7" width="842.1" y="557.5" height="5.7" fill="url(#s91)"/>
<rect x="133.7" width="842.1" y="562.5" height="5.7" fill="url(#s92)"/>
<rect x="133.7" width="842.1" y="567.5" height="5.7" fill="url(#s93)"/>
<rect x="133.7" width="842.1" y="572.5" height="5.7" fill="url(#s94)"/>
<rect x="133.7" width="842.1" y="577.5" height="5.7" fill="url(#s95)"/>
<rect x="133.7" width="842.1" y="582.5" height="5.7" fill="url(#s96)"/>
<rect x="133.7" width="842.1" y="587.5" height="5.7" fill="url(#s97)"/>
<rect x="133.7" width="842.1" y="592.5" height="5.7" fill="url(#s98)"/>
<rect x="133.7" width="842.1" y="597.5" height="5.7" fill="url(#s99)"/>
<rect x="133.7" width="842.1" y="602.5" height="5.7" fill="url(#s100)"/>
<rect x="133.7" width="842.1" y="607.5" height="5.7" fill="url(#s101)"/>
<rect x="133.7" width="842.1" y="612.5" height="5.7" fill="url(#s102)"/>
<rect x="133.7" width="842.1" y="617.5" height="5.7" fill="url(#s103)"/>
<rect x="133.7" width="842.1" y="622.5" height="5.7" fill="url(#s104)"/>
<rect x="133.7" width="842.1" y="627.5" height="5.7" fill="url(#s105)"/>
<rect x="133.7" width="842.1" y="632.5" height="5.7" fill="url(#s106)"/>
<rect x="133.7" width="842.1" y="637.5" height="5.7" fill="url(#s107)"/>
<rect x="133.7" width="842.1" y="642.5" height="5.7" fill="url(#s108)"/>
<rect x="133.7" width="842.1" y="647.5" height="5.7" fill="url(#s109)"/>
<rect x="133.7" width="842.1" y="652.5" height="5.7" fill="url(#s110)"/>
<rect x="133.7" width="842.1" y="657.5" height="5.7" fill="url(#s111)"/>
<rect x="133.7" width="842.1" y="662.5" height="5.7" fill="url(#s112)"/>
<rect x="133.7" width="842.1" y="667.5" height="5.7" fill="url(#s113)"/>
<rect x="133.7" width="842.1" y="672.5" height="5.7" fill="url(#s114)"/>
<rect x="133.7" width="842.1" y="677.5" height="5.7" fill="url(#s115)"/>
<rect x="133.7" width="842.1" y="682.5" height="5.7" fill="url(#s116)"/>
<rect x="133.7" width="842.1" y="687.5" height="5.7" fill="url(#s117)"/>
<rect x="133.7" width="842.1" y="692.5" height="5.7" fill="url(#s118)"/>
<rect x="133.7" width="842.1" y="697.5" height="5.7" fill="url(#s119)"/>
<rect x="133.7" width="842.1" y="702.5" height="5.7" fill="url(#s120)"/>
<rect x="133.7" width="842.1" y="707.5" height="5.7" fill="url(#s121)"/>
<rect x="133.7" width="842.1" y="712.5" height="5.7" fill="url(#s122)"/>
<rect x="133.7" width="842.1" y="717.5" height="5.7" fill="url(#s123)"/>
<rect x="133.7" width="842.1" y="722.5" height="5.7" fill="url(#s124)"/>
<rect x="133.7" width="842.1" y="727.5" height="5.7" fill="url(#s125)"/>
<rect x="133.7" width="842.1" y="732.5" height="5.7" fill="url(#s126)"/>
<rect x="133.7" width="842.1" y="737.5" height="5.7" fill="url(#s127)"/>
<rect x="133.7" width="842.1" y="742.5" height="5.7" fill="url(#s128)"/>
<rect x="133.7" width="842.1" y="747.5" height="5.7" fill="url(#s129)"/>
<rect x="133.7" width="842.1" y="752.5" height="5.7" fill="url(#s130)"/>
<rect x="133.7" width="842.1" y="757.5" height="5.7" fill="url(#s131)"/>
<rect x="133.7" width="842.1" y="762.5" height="5.7" fill="url(#s132)"/>
<rect x="133.7" width="842.1" y="767.5" height="5.7" fill="url(#s133)"/>
<rect x="133.7" width="842.1" y="772.5" height="5.7" fill="url(#s134)"/>
<rect x="133.7" width="842.1" y="777.5" height="5.7" fill="url(#s135)"/>
<rect x="133.7" width="842.1" y="782.5" height="5.7" fill="url(#s136)"/>
<rect x="133.7" width="842.1" y="787.5" height="5.7" fill="url(#s137)"/>
<rect x="133.7" width="842.1" y="792.5" height="5.7" fill="url(#s138)"/>
<rect x="133.7" width="842.1" y="797.5" height="5.7" fill="url(#s139)"/>
<rect x="133.7" width="842.1" y="802.5" height="5.7" fill="url(#s140)"/>
<rect x="133.7" width="842.1" y="807.5" height="5.7" fill="url(#s141)"/>
<rect x="133.7" width="842.1" y="812.5" height="5.7" fill="url(#s142)"/>
<rect x="133.7" width="842.1" y="817.5" height="5.7" fill="url(#s143)"/>
<rect x="133.7" width="842.1" y="822.5" height="5.7" fill="url(#s144)"/>
<rect x="133.7" width="842.1" y="827.5" height="5.7" fill="url(#s145)"/>
<rect x="133.7" width="842.1" y="832.5" height="5.7" fill="url(#s146)"/>
<rect x="133.7" width="842.1" y="837.5" height="5.7" fill="url(#s147)"/>
<rect x="133.7" width="842.1" y="842.5" height="2.6" fill="url(#s148)"/></g>
<!-- hatching -->
<g fill="none" stroke="#0a0a0a" stroke-width="1.9">
<path clip-path="url(#c1)" d="M-596.3 97.5L140.9 849.4M-575 97.5L162.2 849.4M-553.7 97.5L183.5 849.4M-532.4 97.5L204.8 849.4M-511.1 97.5L226.1 849.4M-489.8 97.5L247.4 849.4M-468.5 97.5L268.7 849.4M-447.2 97.5L290 849.4M-425.9 97.5L311.3 849.4M-404.6 97.5L332.6 849.4M-383.3 97.5L353.9 849.4M-362 97.5L375.2 849.4M-340.7 97.5L396.5 849.4M-319.4 97.5L417.8 849.4M-298.1 97.5L439.1 849.4M-276.8 97.5L460.4 849.4M-255.5 97.5L481.7 849.4M-234.2 97.5L503 849.4M-212.9 97.5L524.3 849.4M-191.6 97.5L545.6 849.4M-170.3 97.5L566.9 849.4M-149 97.5L588.2 849.4M-127.7 97.5L609.5 849.4M-106.4 97.5L630.8 849.4M-85.1 97.5L652.1 849.4M-63.8 97.5L673.4 849.4M-42.5 97.5L694.7 849.4M-21.2 97.5L716 849.4M0.1 97.5L737.3 849.4M21.4 97.5L758.6 849.4M42.7 97.5L779.9 849.4M64 97.5L801.2 849.4M85.3 97.5L822.5 849.4M106.6 97.5L843.8 849.4M127.9 97.5L865.1 849.4M149.2 97.5L886.4 849.4M170.5 97.5L907.7 849.4M191.8 97.5L929 849.4M213.1 97.5L950.3 849.4M234.4 97.5L971.6 849.4M255.7 97.5L992.9 849.4M277 97.5L1014.2 849.4M298.3 97.5L1035.5 849.4M319.6 97.5L1056.8 849.4M340.9 97.5L1078.1 849.4M362.2 97.5L1099.4 849.4M383.5 97.5L1120.7 849.4M404.8 97.5L1142 849.4M426.1 97.5L1163.3 849.4M447.4 97.5L1184.6 849.4M468.7 97.5L1205.9 849.4M490 97.5L1227.2 849.4M511.3 97.5L1248.5 849.4M532.6 97.5L1269.8 849.4M553.9 97.5L1291.1 849.4M575.2 97.5L1312.4 849.4M596.5 97.5L1333.7 849.4M617.8 97.5L1355 849.4M639.1 97.5L1376.3 849.4M660.4 97.5L1397.6 849.4M681.7 97.5L1418.9 849.4M703 97.5L1440.2 849.4M724.3 97.5L1461.5 849.4M745.6 97.5L1482.8 849.4M766.9 97.5L1504.1 849.4M788.2 97.5L1525.4 849.4M809.5 97.5L1546.7 849.4M830.8 97.5L1568 849.4M852.1 97.5L1589.3 849.4M873.4 97.5L1610.6 849.4M894.7 97.5L1631.9 849.4M916 97.5L1653.2 849.4M937.3 97.5L1674.5 849.4M958.6 97.5L1695.8 849.4M979.9 97.5L1717.1 849.4"/>
<path clip-path="url(#c2)" d="M-181.8 849.4L147.6 520M-160.6 849.4L168.8 520M-139.4 849.4L190 520M-118.2 849.4L211.2 520M-97 849.4L232.4 520M-75.8 849.4L253.6 520M-54.6 849.4L274.8 520M-33.4 849.4L296 520M-12.2 849.4L317.2 520M9 849.4L338.4 520M30.2 849.4L359.6 520M51.4 849.4L380.8 520M72.6 849.4L402 520M93.8 849.4L423.2 520M115 849.4L444.4 520M136.2 849.4L465.6 520M157.4 849.4L486.8 520M178.6 849.4L508 520M199.8 849.4L529.2 520M221 849.4L550.4 520M242.2 849.4L571.6 520M263.4 849.4L592.8 520M284.6 849.4L614 520M305.8 849.4L635.2 520M327 849.4L656.4 520M348.2 849.4L677.6 520M369.4 849.4L698.8 520M390.6 849.4L720 520M411.8 849.4L741.2 520M433 849.4L762.4 520M454.2 849.4L783.6 520M475.4 849.4L804.8 520M496.6 849.4L826 520M517.8 849.4L847.2 520M539 849.4L868.4 520M560.2 849.4L889.6 520M581.4 849.4L910.8 520M602.6 849.4L932 520M623.8 849.4L953.2 520M645 849.4L974.4 520M666.2 849.4L995.6 520M687.4 849.4L1016.8 520M708.6 849.4L1038 520M729.8 849.4L1059.2 520M751 849.4L1080.4 520M772.2 849.4L1101.6 520M793.4 849.4L1122.8 520M814.6 849.4L1144 520M835.8 849.4L1165.2 520M857 849.4L1186.4 520M878.2 849.4L1207.6 520M899.4 849.4L1228.8 520M920.6 849.4L1250 520M941.8 849.4L1271.2 520M963 849.4L1292.4 520"/>
<path clip-path="url(#c3)" stroke-width="2.4" d="M902.6 100L902.6 152M913.3 100L913.3 152M924 100L924 152M934.5 100L934.5 152M945 100L945 152M955 100L955 152M965.2 100L965.2 152"/>
</g>
<!-- dashed box -->
<path d="M196 298.7H733.3V684.5H197.2V298.7" fill="none" stroke="#000" stroke-width="3.6" stroke-dasharray="17 19.8"/>
<!-- boundary lines -->
<path d="M133.7 549.8L975.8 772.9" fill="none" stroke="#000" stroke-width="5"/>
<path d="M890.5 102.6L892.5 103 L902 108.5 L911.7 116 L926.8 124.2 L946.2 133.9 L961.3 141.4 L975.5 148" fill="none" stroke="#000" stroke-width="5.4" stroke-linejoin="round"/>
<!-- frame -->
<path d="M133.7 844.4V102.5H975.8V844.4" fill="none" stroke="#000" stroke-width="3.4" stroke-linejoin="miter"/>
<path d="M132 845L977.5 843.4" fill="none" stroke="#000" stroke-width="5.2"/>
<path d="M133 500V549" fill="none" stroke="#000" stroke-width="5"/>
<path d="M124 170.4L133.7 170.4M975.8 170.4L985 170.4M133.7 238.6L150 238.6M975.8 238.6L992.5 238.6M124 306.7L133.7 306.7M975.8 306.7L985 306.7M133.7 374.8L150 374.8M975.8 374.8L992.5 374.8M124 442.9L133.7 442.9M975.8 442.9L985 442.9M133.7 511.1L150 511.1M975.8 511.1L992.5 511.1M124 579.2L133.7 579.2M975.8 579.2L985 579.2M133.7 647.3L150 647.3M975.8 647.3L992.5 647.3M124 715.5L133.7 715.5M975.8 715.5L985 715.5M133.7 783.6L150 783.6M975.8 783.6L992.5 783.6M975.8 103.2L992.5 103.2M203 87L203 102.5M203 827.5L203 844.4M280.3 102.5L280.3 112M280.3 844.4L280.3 853.5M357.6 87L357.6 102.5M357.6 827.5L357.6 844.4M434.9 102.5L434.9 112M434.9 844.4L434.9 853.5M512.2 87L512.2 102.5M512.2 827.5L512.2 844.4M589.5 102.5L589.5 112M589.5 844.4L589.5 853.5M666.8 87L666.8 102.5M666.8 827.5L666.8 844.4M744.1 102.5L744.1 112M744.1 844.4L744.1 853.5M821.4 87L821.4 102.5M821.4 827.5L821.4 844.4M898.7 844.4L898.7 853.5M976 87L976 102.5" fill="none" stroke="#000" stroke-width="2.8"/>
<!-- arrows -->
<g stroke="#000" stroke-width="2" fill="#000">
<path d="M134 31V90"/><path d="M134 100.5L129.2 83.5L134 86.5L138.8 83.5Z" stroke-width="1"/>
<path d="M894 33V90"/><path d="M894 100.5L889.2 83.5L894 86.5L898.8 83.5Z" stroke-width="1"/>
<path d="M1017 152.8H985"/><path d="M978 152.8L994.5 148L991.5 152.8L994.5 157.6Z" stroke-width="1"/>
</g>
<!-- green callout -->
<path d="M982 127H1180" stroke="#14821a" stroke-width="2.6" fill="none"/>
<path d="M975.5 127L980 122.6Q984 120.8 987 122.2V131.8Q984 133.2 980 131.4Z" fill="#14821a"/>
<ellipse cx="970" cy="127" rx="3" ry="3.4" fill="#3d9a28" opacity="0.85"/>
<ellipse cx="1286.5" cy="120.2" rx="110" ry="91" fill="#14821a"/>
<!-- colour bar -->
<rect x="1193.6" y="237" width="74.2" height="443.6" fill="url(#cg)" stroke="#000" stroke-width="2.2"/>
<path d="M1268 237.4L1282 237.4M1268 265.4L1282 265.4M1268 316.4L1282 316.4M1268 369L1282 369M1268 419.5L1282 419.5M1268 473L1282 473M1268 523.2L1282 523.2M1268 576.4L1282 576.4M1268 626.2L1282 626.2M1268 679.6L1282 679.6" stroke="#000" stroke-width="2.4" fill="none"/>
<!-- legend swatches -->
<g fill="#fff" stroke="#000" stroke-width="1.8">
<rect x="1079.4" y="737.5" width="52" height="25.7"/>
<rect x="1079.4" y="777" width="52" height="25"/>
<rect x="1079.4" y="816" width="52" height="25"/>
</g>
<g fill="none" stroke="#000" stroke-width="1.6">
<path d="M1085.9 737.5v25.7M1092.5 737.5v25.7M1098.9 737.5v25.7M1105.4 737.5v25.7M1111.8 737.5v25.7M1118.3 737.5v25.7M1124.6 737.5v25.7M1128.2 737.5v25.7"/>
<path d="M1079.4 790L1091.4 802M1084 777L1109 802M1097.4 777L1122.4 802M1110.8 777L1131.4 797.6M1124.2 777L1131.4 784.2"/>
<path d="M1079.4 830L1093.4 816M1081 841L1106 816M1094.4 841L1119.4 816M1107.8 841L1131.4 817.4M1121.2 841L1131.4 830.8"/>
</g>
<!-- text -->
<g>
<text x="68.5" y="26.3" font-size="36" font-weight="normal" fill="#000" text-anchor="start" textLength="132.5" lengthAdjust="spacingAndGlyphs" stroke="#000" stroke-width="1.0" >2.39 nm</text>
<text x="810.5" y="29.6" font-size="36" font-weight="normal" fill="#000" text-anchor="start" textLength="151.5" lengthAdjust="spacingAndGlyphs" stroke="#000" stroke-width="1.0" >12.18 nm</text>
<text x="163.1" y="76.8" font-size="36" font-weight="normal" fill="#000" text-anchor="start" textLength="72.4" lengthAdjust="spacingAndGlyphs" stroke="#000" stroke-width="1.0" >2.54</text>
<text x="319.5" y="76.8" font-size="36" font-weight="normal" fill="#000" text-anchor="start" textLength="72.4" lengthAdjust="spacingAndGlyphs" stroke="#000" stroke-width="1.0" >3.00</text>
<text x="473.2" y="76.8" font-size="36" font-weight="normal" fill="#000" text-anchor="start" textLength="72.4" lengthAdjust="spacingAndGlyphs" stroke="#000" stroke-width="1.0" >3.71</text>
<text x="628.1" y="76.8" font-size="36" font-weight="normal" fill="#000" text-anchor="start" textLength="72.4" lengthAdjust="spacingAndGlyphs" stroke="#000" stroke-width="1.0" >5.01</text>
<text x="781.3" y="76.8" font-size="36" font-weight="normal" fill="#000" text-anchor="start" textLength="72.4" lengthAdjust="spacingAndGlyphs" stroke="#000" stroke-width="1.0" >8.37</text>
<text x="976.5" y="93.4" font-size="39.5" font-weight="normal" fill="#000" text-anchor="start" textLength="88.5" lengthAdjust="spacingAndGlyphs" stroke="#000" stroke-width="1.5" >Bulk</text>
<text x="1020.3" y="163" font-size="35.5" font-weight="normal" fill="#000" text-anchor="start" textLength="152" lengthAdjust="spacingAndGlyphs" stroke="#000" stroke-width="1.0" >14.25 nm</text>
<text x="991.8" y="250.3" font-size="35" font-weight="normal" fill="#000" text-anchor="start" textLength="72.5" lengthAdjust="spacingAndGlyphs" stroke="#000" stroke-width="1.0" >6.04</text>
<text x="991.8" y="386.3" font-size="35" font-weight="normal" fill="#000" text-anchor="start" textLength="72.5" lengthAdjust="spacingAndGlyphs" stroke="#000" stroke-width="1.0" >3.61</text>
<text x="991.8" y="521.3" font-size="35" font-weight="normal" fill="#000" text-anchor="start" textLength="72.5" lengthAdjust="spacingAndGlyphs" stroke="#000" stroke-width="1.0" >2.68</text>
<text x="991.8" y="655.3" font-size="35" font-weight="normal" fill="#000" text-anchor="start" textLength="72.5" lengthAdjust="spacingAndGlyphs" stroke="#000" stroke-width="1.0" >2.16</text>
<text x="991.8" y="789.3" font-size="35" font-weight="normal" fill="#000" text-anchor="start" textLength="72.5" lengthAdjust="spacingAndGlyphs" stroke="#000" stroke-width="1.0" >1.83</text>
<text x="58.2" y="547" font-size="36" font-weight="normal" fill="#000" text-anchor="start" textLength="68.4" lengthAdjust="spacingAndGlyphs" stroke="#000" stroke-width="1.0" >2.49</text>
<text x="58.4" y="579.9" font-size="36" font-weight="normal" fill="#000" text-anchor="start" textLength="49.6" lengthAdjust="spacingAndGlyphs" stroke="#000" stroke-width="1.0" >nm</text>
<text x="1290.4" y="246.2" font-size="26.6" font-weight="bold" fill="#000" text-anchor="start" textLength="54.4" lengthAdjust="spacingAndGlyphs" stroke="#000" stroke-width="0.3" >0.05</text>
<text x="1290.4" y="274.2" font-size="26.6" font-weight="bold" fill="#000" text-anchor="start" textLength="63.6" lengthAdjust="spacingAndGlyphs" stroke="#000" stroke-width="0.3" >-0.03</text>
<text x="1290.4" y="325.2" font-size="26.6" font-weight="bold" fill="#000" text-anchor="start" textLength="63.6" lengthAdjust="spacingAndGlyphs" stroke="#000" stroke-width="0.3" >-0.18</text>
<text x="1290.4" y="377.8" font-size="26.6" font-weight="bold" fill="#000" text-anchor="start" textLength="63.6" lengthAdjust="spacingAndGlyphs" stroke="#000" stroke-width="0.3" >-0.33</text>
<text x="1290.4" y="428.3" font-size="26.6" font-weight="bold" fill="#000" text-anchor="start" textLength="63.6" lengthAdjust="spacingAndGlyphs" stroke="#000" stroke-width="0.3" >-0.48</text>
<text x="1290.4" y="481.8" font-size="26.6" font-weight="bold" fill="#000" text-anchor="start" textLength="63.6" lengthAdjust="spacingAndGlyphs" stroke="#000" stroke-width="0.3" >-0.64</text>
<text x="1290.4" y="532" font-size="26.6" font-weight="bold" fill="#000" text-anchor="start" textLength="63.6" lengthAdjust="spacingAndGlyphs" stroke="#000" stroke-width="0.3" >-0.79</text>
<text x="1290.4" y="585.2" font-size="26.6" font-weight="bold" fill="#000" text-anchor="start" textLength="63.6" lengthAdjust="spacingAndGlyphs" stroke="#000" stroke-width="0.3" >-0.94</text>
<text x="1290.4" y="635" font-size="26.6" font-weight="bold" fill="#000" text-anchor="start" textLength="63.6" lengthAdjust="spacingAndGlyphs" stroke="#000" stroke-width="0.3" >-1.09</text>
<text x="1290.4" y="688.4" font-size="26.6" font-weight="bold" fill="#000" text-anchor="start" textLength="63.6" lengthAdjust="spacingAndGlyphs" stroke="#000" stroke-width="0.3" >-1.24</text>
<text x="1140" y="758.6" font-size="29.3" font-weight="bold" fill="#000" text-anchor="start" textLength="252" lengthAdjust="spacingAndGlyphs" stroke="#000" stroke-width="0.3" >Type II (Anatase)</text>
<text x="1140" y="797.4" font-size="29.3" font-weight="bold" fill="#000" text-anchor="start" textLength="90.4" lengthAdjust="spacingAndGlyphs" stroke="#000" stroke-width="0.3" >Type I</text>
<text x="1140" y="834.8" font-size="29.3" font-weight="bold" fill="#000" text-anchor="start" textLength="216.6" lengthAdjust="spacingAndGlyphs" stroke="#000" stroke-width="0.3" >Type II (Rutile)</text>
<text x="1205.7" y="87" font-size="26.5" font-weight="bold" fill="#ffffe1" text-anchor="start" textLength="111.3" lengthAdjust="spacing" >Average</text>
<text x="1205.7" y="122.7" font-size="26.5" font-weight="bold" fill="#ffffe1" text-anchor="start" textLength="91.3" lengthAdjust="spacing" >Size of</text>
<text x="1205.7" y="159.5" font-size="26.5" font-weight="bold" fill="#ffffe1" text-anchor="start" textLength="178.6" lengthAdjust="spacing" >Degussa P25</text>
<text x="328.6" y="919.3" font-size="39" font-weight="bold" fill="#000" textLength="458" lengthAdjust="spacingAndGlyphs"><tspan font-style="italic">Diameter /</tspan> nm - Anatase</text>
<text transform="translate(34.4 672) rotate(-90)" font-size="39" font-weight="bold" fill="#000" textLength="411" lengthAdjust="spacingAndGlyphs"><tspan font-style="italic">Diameter /</tspan> nm - Rutile</text>
</g>
</svg>
</body>
</html>
